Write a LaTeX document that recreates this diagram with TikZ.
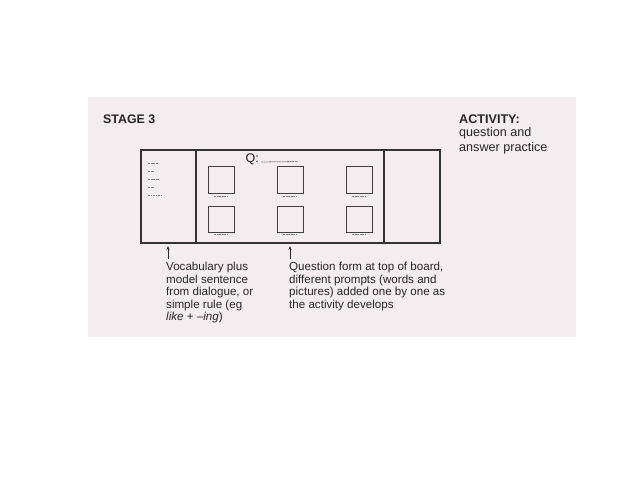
\documentclass[tikz,border=0pt]{standalone}
\usepackage{fontspec}
\setmainfont{Liberation Sans}
\usetikzlibrary{arrows.meta}
\begin{document}
\begin{tikzpicture}[x=1pt,y=-1pt,
  board/.style={draw=black!80,line width=1.2pt},
  pbox/.style={draw=black!75,line width=0.8pt},
  scrib/.style={draw=black!50,line width=1pt,dash pattern=on 2pt off 0.6pt},
  uparrow/.style={draw=black!85,line width=0.8pt,-{Stealth[length=4pt,width=3pt]}},
  note/.style={anchor=north west,align=left,font=\fontsize{11.6}{12.5}\selectfont,text=black!85,inner sep=0pt},
  head/.style={anchor=west,font=\fontsize{12.6}{14.5}\selectfont,text=black!85,inner sep=0pt}]
\useasboundingbox (0,0) rectangle (638,478);
\fill[white] (0,0) rectangle (638,478);
\fill[fill={rgb,255:red,244;green,237;blue,240}] (88,97) rectangle (576,337);
% board
\draw[board] (141,150) rectangle (440,243);
\draw[board] (196,150) -- (196,243);
\draw[board] (384,150) -- (384,243);
% picture boxes
\foreach \x [count=\i] in {208,277,346}{
  \draw[pbox] (\x,166) rectangle ++(26,27);
  \draw[pbox] (\x,206) rectangle ++(26,26);
}
% tiny prompt words under boxes (illegible scribbles)
\foreach \x in {214,283,352}{
  \draw[scrib] (\x,196.5) -- ++(14,0);
  \draw[scrib] (\x,235) -- ++(14,0);
}
% left column vocabulary scribbles
\draw[scrib] (148,164) -- ++(10,0);
\draw[scrib] (148,172) -- ++(6,0);
\draw[scrib] (148,179.5) -- ++(11,0);
\draw[scrib] (148,187.5) -- ++(6,0);
\draw[scrib] (148,195.5) -- ++(3,0) (153,195.5) -- ++(3,0) (158,195.5) -- ++(4,0);
% question
\node[anchor=west,inner sep=0pt,font=\fontsize{12.5}{15}\selectfont,text=black!90] (q) at (245.5,159) {Q:};
\draw[scrib,line width=0.8pt] (261,162) -- (298,161.5);
% headings
\node[head,font=\bfseries\fontsize{12.4}{14.5}\selectfont] (stage) at (103,119) {STAGE 3};
\node[head,font=\bfseries\fontsize{12.6}{14.5}\selectfont] (act) at (459,119) {ACTIVITY:};
\node[head] (act2) at (459,133.5) {question and};
\node[head] (act3) at (459,148.5) {answer practice};
% notes
\node[note] (n1) at (166,262) {Vocabulary plus\\model sentence\\from dialogue, or\\simple rule (eg\\\textit{like} + \textit{–ing})};
\node[note] (n2) at (289,262) {Question form at top of board,\\different prompts (words and\\pictures) added one by one as\\the activity develops};
\coordinate (a1s) at (168,259);
\coordinate (a1e) at (168,246);
\coordinate (a2s) at (290,259);
\coordinate (a2e) at (290,246);
\draw[uparrow] (a1s) -- (a1e);
\draw[uparrow] (a2s) -- (a2e);
\end{tikzpicture}
\end{document}
